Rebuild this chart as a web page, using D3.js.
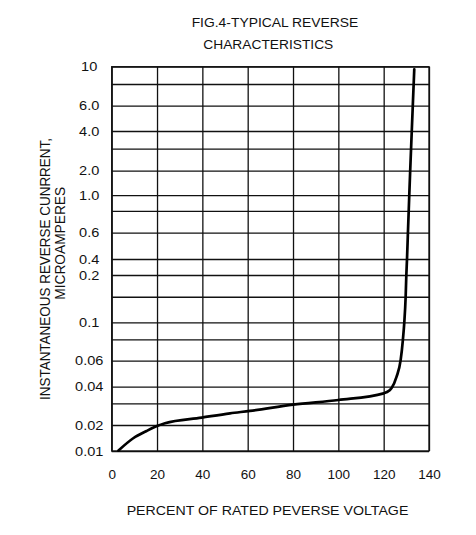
<!DOCTYPE html>
<html>
<head>
<meta charset="utf-8">
<script src="https://cdn.jsdelivr.net/npm/d3@7"></script>
<style>
  html, body { margin: 0; padding: 0; background: #fff; }
  svg { display: block; }
  text { font-family: "Liberation Sans", Arial, sans-serif; fill: #111; }
</style>
</head>
<body>
<svg id="chart" width="476" height="535"></svg>
<script>
// ---- data ----
const titleLines = ["FIG.4-TYPICAL REVERSE", "CHARACTERISTICS"];
const xTitle = "PERCENT OF RATED PEVERSE VOLTAGE";
const yTitleLines = ["INSTANTANEOUS REVERSE CUNRRENT,", "MICROAMPERES"];

const xTickValues = [0, 20, 40, 60, 80, 100, 120, 140];

// printed horizontal grid lines (values, microamperes)
const yGridValues = [0.01, 0.02, 0.03, 0.04, 0.06, 0.08, 0.1, 0.15, 0.2, 0.4, 0.6, 0.8, 1, 2, 3, 4, 6, 8, 10];
// the printed (irregular) grid spacing, in decades above 0.01
const yGridDecades = [0, 0.203, 0.372, 0.502, 0.705, 0.872, 1.004, 1.204, 1.374, 1.499, 1.704, 1.874, 1.998, 2.188, 2.36, 2.498, 2.696, 2.865, 3];
const yTickValues = [0.01, 0.02, 0.04, 0.06, 0.1, 0.2, 0.4, 0.6, 1, 2, 4, 6, 10];
const yTickLabels = ["0.01", "0.02", "0.04", "0.06", "0.1", "0.2", "0.4", "0.6", "1.0", "2.0", "4.0", "6.0", "10"];

// reverse characteristic curve
const curveX = [3, 9.5, 15.4, 20, 23.5, 39.7, 52.2, 61, 80, 100, 120, 122.5, 123.5, 125.7, 127.5, 128.5, 129.1, 129.7, 130.0, 130.3, 130.7, 131.3, 131.7, 132.4, 132.85, 133.5];
const curveY = [0.0102, 0.0149, 0.0177, 0.0196, 0.0208, 0.0234, 0.0254, 0.0265, 0.0294, 0.032, 0.036, 0.0377, 0.0392, 0.0477, 0.0607, 0.08, 0.1, 0.15, 0.2, 0.4, 0.6, 1.0, 2.0, 4.0, 6.0, 9.7];

// ---- layout ----
const margin = { left: 111.7, top: 66.7, right: 47, bottom: 84 };
const W = 476, H = 535;
const pw = W - margin.left - margin.right;   // plot width
const ph = H - margin.top - margin.bottom;   // plot height

const svg = d3.select("#chart");
const g = svg.append("g").attr("transform", `translate(${margin.left},${margin.top})`);

const x = d3.scaleLinear().domain([0, 140]).range([0, pw]);
const decade = d3.scaleLinear().domain([0, 3]).range([ph, 0]);
const y = d3.scaleLinear().domain(yGridValues).range(yGridDecades.map(decade));

const gridStroke = "#111", gridWidth = 1.3;

// vertical grid via bottom axis
const xAxis = g.append("g")
  .attr("transform", `translate(0,${ph})`)
  .call(d3.axisBottom(x).tickValues(xTickValues).tickSize(-ph).tickPadding(18).tickFormat(d3.format("d")));
xAxis.select(".domain").remove();
xAxis.selectAll("line").attr("stroke", gridStroke).attr("stroke-width", gridWidth);
xAxis.selectAll("text").attr("font-size", 13.5).attr("fill", "#111");

// horizontal grid via left axis
const labelMap = new Map(yTickValues.map((v, i) => [v, yTickLabels[i]]));
const yAxis = g.append("g")
  .call(d3.axisLeft(y).tickValues(yGridValues).tickSize(-pw).tickFormat(d => labelMap.get(d) || ""));
yAxis.select(".domain").remove();
yAxis.selectAll("line").attr("stroke", gridStroke).attr("stroke-width", gridWidth);
yAxis.selectAll("text")
  .attr("font-size", 13)
  .attr("fill", "#111")
  .attr("text-anchor", "middle")
  .attr("x", -22.5)
  .each(function () {
    const len = this.getComputedTextLength();
    if (len > 0) {
      d3.select(this).attr("textLength", len * 1.12).attr("lengthAdjust", "spacingAndGlyphs");
    }
  });

// plot border
g.append("rect")
  .attr("x", 0).attr("y", 0).attr("width", pw).attr("height", ph)
  .attr("fill", "none").attr("stroke", gridStroke).attr("stroke-width", gridWidth);

// curve
const pts = curveX.map((v, i) => [v, curveY[i]]);
const line = d3.line().x(d => x(d[0])).y(d => y(d[1])).curve(d3.curveMonotoneX);
g.append("path")
  .datum(pts)
  .attr("d", line)
  .attr("fill", "none")
  .attr("stroke", "#000")
  .attr("stroke-width", 2.7)
  .attr("stroke-linejoin", "round")
  .attr("stroke-linecap", "round");

// title
svg.append("text").attr("x", 275).attr("y", 26.8).attr("text-anchor", "middle")
  .attr("font-size", 12.5).attr("textLength", 166.7).attr("lengthAdjust", "spacingAndGlyphs")
  .text(titleLines[0]);
svg.append("text").attr("x", 268.3).attr("y", 48.8).attr("text-anchor", "middle")
  .attr("font-size", 12.5).attr("textLength", 130).attr("lengthAdjust", "spacingAndGlyphs")
  .text(titleLines[1]);

// x title
svg.append("text").attr("x", 267.5).attr("y", 514.7).attr("text-anchor", "middle")
  .attr("font-size", 13.5).attr("textLength", 281.7).attr("lengthAdjust", "spacingAndGlyphs")
  .text(xTitle);

// y title (rotated, condensed)
svg.append("text").attr("transform", "translate(44,269) rotate(-90)")
  .attr("text-anchor", "middle").attr("dominant-baseline", "central")
  .attr("font-size", 15.5).attr("textLength", 262).attr("lengthAdjust", "spacingAndGlyphs")
  .text(yTitleLines[0]);
svg.append("text").attr("transform", "translate(59.5,243.3) rotate(-90)")
  .attr("text-anchor", "middle").attr("dominant-baseline", "central")
  .attr("font-size", 15).attr("textLength", 113).attr("lengthAdjust", "spacingAndGlyphs")
  .text(yTitleLines[1]);
</script>
</body>
</html>
